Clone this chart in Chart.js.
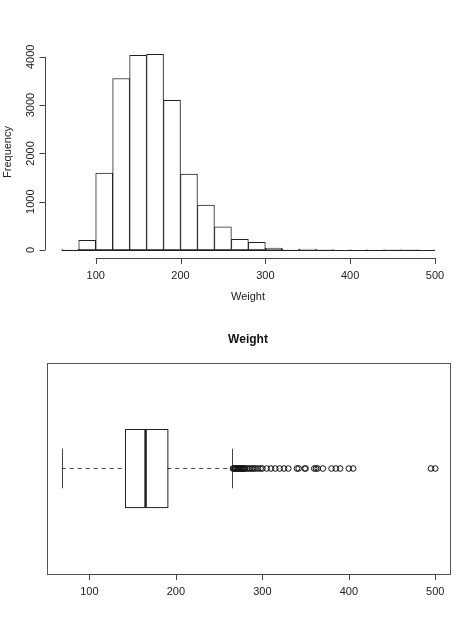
<!DOCTYPE html>
<html><head><meta charset="utf-8">
<script src="https://cdn.jsdelivr.net/npm/chart.js@4"></script>
<style>body{margin:0;background:#fff}div{position:absolute;left:0;width:474px;height:316px}</style>
</head><body>
<div style="top:0"><canvas id="h"></canvas></div>
<div style="top:316px"><canvas id="b"></canvas></div>
<script>
const binStarts=[60,80,100,120,140,160,180,200,220,240,260,280,300,320,340,360,380,400,420,440,460,480];
const counts=[12,200,1590,3550,4030,4050,3100,1570,930,480,220,160,40,15,20,6,5,3,2,1,1,2];
const xTicks=[100,200,300,400,500];
const yTicks=[0,1000,2000,3000,4000];
const boxStats={min:68,q1:141,median:165,q3:190,max:265};
const outliers=[266,267,268,269,270,271,272,273,274,275,276,277,278,279,280,282,284,286,288,290,292,295,298,300,305,310,315,320,325,330,340,342,349,350,360,362,364,370,380,385,390,400,405,495,500];
const FONT='11px "Liberation Sans", Arial, sans-serif';
Chart.defaults.animation=false;
const pad={left:47,right:24,top:47,bottom:58};
function drawX(ch,y){const c=ch.ctx,s=ch.scales.x;c.save();c.strokeStyle='#444';c.lineWidth=1;c.beginPath();
 c.moveTo(s.getPixelForValue(xTicks[0]),y+.5);c.lineTo(s.getPixelForValue(xTicks[xTicks.length-1]),y+.5);
 xTicks.forEach(t=>{const p=Math.round(s.getPixelForValue(t))+.5;c.moveTo(p,y);c.lineTo(p,y+6);});c.stroke();
 c.fillStyle='#222';c.font=FONT;c.textAlign='center';c.textBaseline='middle';
 xTicks.forEach(t=>c.fillText(String(t),s.getPixelForValue(t),y+18));c.restore();}
new Chart(document.getElementById('h'),{type:'bar',
 data:{datasets:[{data:binStarts.map((b,i)=>({x:b+10,y:counts[i]})),backgroundColor:'#fff',borderColor:'#222',borderWidth:1,borderSkipped:false,barPercentage:1,categoryPercentage:1}]},
 options:{responsive:true,maintainAspectRatio:false,layout:{padding:pad},plugins:{legend:{display:false},tooltip:{enabled:false}},
  scales:{x:{type:'linear',offset:false,min:42.6,max:517.7,display:false},y:{min:-166,max:4203,display:false}}},
 plugins:[{id:'ax',afterDraw(ch){const c=ch.ctx,s=ch.scales.y,sx=ch.scales.x;drawX(ch,ch.chartArea.bottom);
  c.save();c.strokeStyle='#222';c.beginPath();const y0=Math.round(s.getPixelForValue(0))+.5;
  c.moveTo(sx.getPixelForValue(binStarts[0]),y0);c.lineTo(sx.getPixelForValue(binStarts[binStarts.length-1]+20),y0);c.stroke();
  c.strokeStyle='#444';c.beginPath();const x=45.5;
  c.moveTo(x,s.getPixelForValue(0));c.lineTo(x,s.getPixelForValue(4000));
  yTicks.forEach(t=>{const p=Math.round(s.getPixelForValue(t))+.5;c.moveTo(x,p);c.lineTo(x-6,p);});c.stroke();
  c.fillStyle='#222';c.font=FONT;c.textAlign='center';c.textBaseline='middle';
  yTicks.forEach(t=>{c.save();c.translate(31,s.getPixelForValue(t));c.rotate(-Math.PI/2);c.fillText(String(t),0,0);c.restore();});
  c.save();c.translate(8,152);c.rotate(-Math.PI/2);c.fillText('Frequency',0,0);c.restore();
  c.fillText('Weight',248,297);c.restore();}}]});
new Chart(document.getElementById('b'),{type:'scatter',
 data:{datasets:[{data:outliers.map(v=>({x:v,y:1})),pointRadius:2.8,pointBackgroundColor:'rgba(0,0,0,0)',pointBorderColor:'#111',pointBorderWidth:1}]},
 options:{responsive:true,maintainAspectRatio:false,layout:{padding:pad},plugins:{legend:{display:false},tooltip:{enabled:false}},
  scales:{x:{type:'linear',min:51,max:517,display:false},y:{min:0.5,max:1.5,display:false}}},
 plugins:[{id:'box',beforeDatasetsDraw(ch){const c=ch.ctx,sx=ch.scales.x,sy=ch.scales.y,a=ch.chartArea;
  const X=v=>sx.getPixelForValue(v),Y=v=>sy.getPixelForValue(v);c.save();
  c.strokeStyle='#444';c.lineWidth=1;c.setLineDash([4,4]);c.beginPath();
  c.moveTo(X(boxStats.min),Y(1));c.lineTo(X(boxStats.q1),Y(1));c.moveTo(X(boxStats.q3),Y(1));c.lineTo(X(boxStats.max),Y(1));c.stroke();
  c.setLineDash([]);c.beginPath();
  [boxStats.min,boxStats.max].forEach(v=>{c.moveTo(Math.round(X(v))+.5,Y(1.094));c.lineTo(Math.round(X(v))+.5,Y(0.906));});c.stroke();
  c.strokeStyle='#222';c.strokeRect(Math.round(X(boxStats.q1))+.5,Math.round(Y(1.185))+.5,X(boxStats.q3)-X(boxStats.q1),Y(0.815)-Y(1.185));
  c.lineWidth=2.5;c.beginPath();c.moveTo(X(boxStats.median),Y(1.185));c.lineTo(X(boxStats.median),Y(0.815));c.stroke();
  c.lineWidth=1;c.strokeStyle='#555';c.strokeRect(a.left+.5,a.top+.5,a.right-a.left,a.bottom-a.top);c.restore();},
 afterDraw(ch){drawX(ch,ch.chartArea.bottom);const c=ch.ctx;c.save();c.fillStyle='#111';c.font='bold 12px "Liberation Sans", Arial, sans-serif';
  c.textAlign='center';c.textBaseline='middle';c.fillText('Weight',248,24);c.restore();}}]});
</script></body></html>
